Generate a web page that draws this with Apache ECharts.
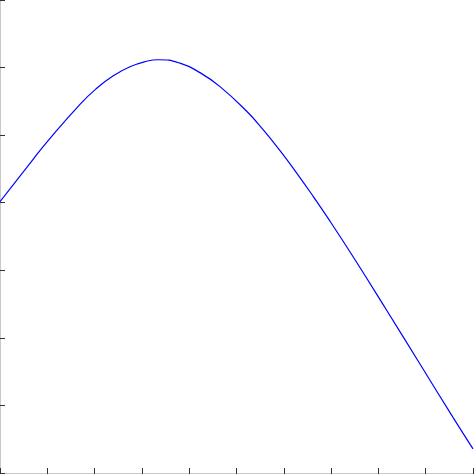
<!DOCTYPE html>
<html>
<head>
<meta charset="utf-8">
<script src="https://cdn.jsdelivr.net/npm/echarts@6/dist/echarts.min.js"></script>
<style>
html,body{margin:0;padding:0;background:#fff;}
#chart{width:474px;height:474px;}
</style>
</head>
<body>
<div id="chart"></div>
<script>
var xValues = [0, 0.704, 0.987, 1.691, 2.044, 2.395, 2.748, 3.101, 3.340, 3.805, 4.228, 4.651, 5.216, 5.567, 5.920, 6.273, 6.624, 6.977, 7.469, 8.175, 8.879, 9.584, 10];
var yValues = [4.015, 4.645, 4.893, 5.456, 5.693, 5.879, 6.013, 6.094, 6.116, 6.065, 5.925, 5.718, 5.353, 5.078, 4.771, 4.439, 4.091, 3.727, 3.196, 2.409, 1.613, 0.816, 0.358];

var chart = echarts.init(document.getElementById('chart'), null, {renderer: 'canvas'});
var pts = xValues.map(function (x, i) { return [x, yValues[i]]; });
var tickStyle = {show: true, inside: true, length: 5, lineStyle: {color: '#333', width: 1}};
chart.setOption({
  animation: false,
  backgroundColor: '#fff',
  grid: {left: 0, right: 1, top: 0, bottom: 1, containLabel: false},
  xAxis: [
    {type: 'value', position: 'bottom', min: 0, max: 10, interval: 1,
     axisLine: {show: true, lineStyle: {color: '#c8c8c8', width: 1}},
     axisTick: tickStyle, axisLabel: {show: false}, splitLine: {show: false}},
    {type: 'value', position: 'top', min: 0, max: 10, interval: 1,
     axisLine: {show: false},
     axisTick: tickStyle, axisLabel: {show: false}, splitLine: {show: false}}
  ],
  yAxis: [
    {type: 'value', position: 'left', min: 0, max: 7, interval: 1,
     axisLine: {show: false},
     axisTick: tickStyle, axisLabel: {show: false}, splitLine: {show: false}},
    {type: 'value', position: 'right', min: 0, max: 7, interval: 1,
     axisLine: {show: true, lineStyle: {color: '#c8c8c8', width: 1}},
     axisTick: tickStyle, axisLabel: {show: false}, splitLine: {show: false}}
  ],
  series: [{
    type: 'line',
    data: pts,
    smooth: 0.5,
    showSymbol: false,
    clip: false,
    lineStyle: {color: '#0000ff', width: 1.2}
  }]
});
</script>
</body>
</html>
